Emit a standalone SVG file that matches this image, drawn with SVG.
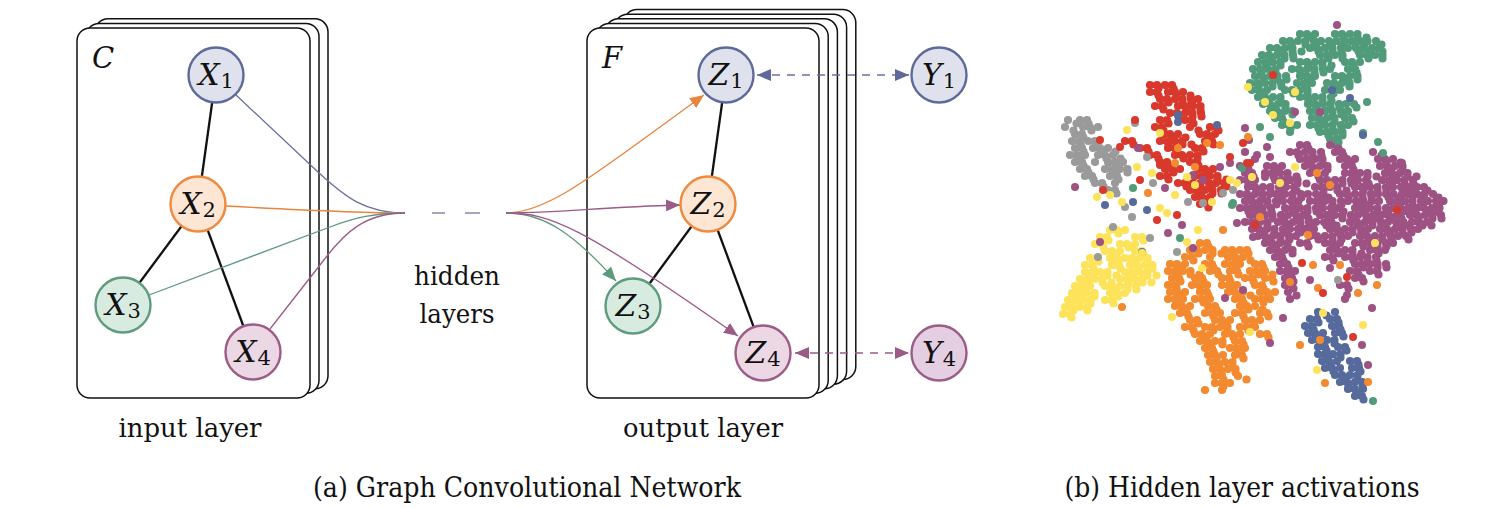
<svg xmlns="http://www.w3.org/2000/svg" width="1510" height="508" viewBox="0 0 1510 508">
<style>
.card{fill:#fff;stroke:#111;stroke-width:1.5}
.edge{stroke:#111;stroke-width:2.3;fill:none}
.n1{fill:#dfe2ec;stroke:#5f6a9a;stroke-width:2.4}
.n2{fill:#fde6d4;stroke:#ef8a3e;stroke-width:2.4}
.n3{fill:#d8ebe1;stroke:#5f9c7e;stroke-width:2.4}
.n4{fill:#ecd7e5;stroke:#9c5c87;stroke-width:2.4}
.n4y{fill:#e4cfe2;stroke:#9c5c87;stroke-width:2.4}
.t{fill:#111;font-family:"DejaVu Serif",serif}
.lbl{font-family:"DejaVu Serif",serif;font-size:30px;text-anchor:middle;fill:#111}
.it{font-style:italic}
.sub{font-size:21px;font-style:normal}
.cb{stroke:#6a6f9e;stroke-width:1.3;fill:none}
.co{stroke:#e8843d;stroke-width:1.3;fill:none}
.cg{stroke:#5d9a7b;stroke-width:1.3;fill:none}
.cp{stroke:#9c5a86;stroke-width:1.3;fill:none}
.dash{stroke-dasharray:8 7;stroke-width:1.5}
.g{fill:#519b7b}.r{fill:#d9392c}.k{fill:#9a9a9a}.y{fill:#fde35a}.o{fill:#f38a30}.p{fill:#9d5283}.b{fill:#566a9c}
.L1{fill:none;stroke-width:8.2;stroke-linecap:round;stroke-dasharray:0 7 0 8 0 7.5 0 8.5}
.L2{fill:none;stroke-width:8.2;stroke-linecap:round;stroke-dasharray:0 10 0 14 0 9 0 17;stroke-dashoffset:4}
</style>
<defs>
<marker id="ao" markerUnits="userSpaceOnUse" markerWidth="14" markerHeight="12" refX="14" refY="6" orient="auto"><path d="M0,0L14,6L0,12z" fill="#e8843d"/></marker>
<marker id="ap" markerUnits="userSpaceOnUse" markerWidth="14" markerHeight="12" refX="14" refY="6" orient="auto-start-reverse"><path d="M0,0L14,6L0,12z" fill="#9c5a86"/></marker>
<marker id="ag" markerUnits="userSpaceOnUse" markerWidth="14" markerHeight="12" refX="14" refY="6" orient="auto"><path d="M0,0L14,6L0,12z" fill="#5d9a7b"/></marker>
<marker id="ab" markerUnits="userSpaceOnUse" markerWidth="14" markerHeight="12" refX="14" refY="6" orient="auto-start-reverse"><path d="M0,0L14,6L0,12z" fill="#5f6a9a"/></marker>
</defs>

<g id="input-stack">
<rect class="card" x="95" y="18.8" width="233" height="370" rx="13"/>
<rect class="card" x="86" y="23.4" width="233" height="370" rx="13"/>
<rect class="card" x="77" y="28" width="233" height="370" rx="13"/>
<text class="t it" x="92" y="68" font-size="29">C</text>
</g>
<g id="output-stack">
<rect class="card" x="623.8" y="9.6" width="232" height="370" rx="13"/>
<rect class="card" x="614.6" y="14.2" width="232" height="370" rx="13"/>
<rect class="card" x="605.4" y="18.8" width="232" height="370" rx="13"/>
<rect class="card" x="596.2" y="23.4" width="232" height="370" rx="13"/>
<rect class="card" x="587" y="28" width="232" height="370" rx="13"/>
<text class="t it" x="602" y="68" font-size="29">F</text>
</g>

<g id="connectors">
<line class="edge" x1="216" y1="75" x2="198" y2="204"/>
<line class="edge" x1="198" y1="204" x2="123" y2="305"/>
<line class="edge" x1="198" y1="204" x2="253" y2="352"/>
<line class="edge" x1="726" y1="75" x2="708" y2="204"/>
<line class="edge" x1="708" y1="204" x2="633" y2="306"/>
<line class="edge" x1="708" y1="204" x2="763" y2="352"/>
<path class="cb" d="M236,95 L318,172 C345,197 365,213 405,213"/>
<path class="co" d="M226,206 C300,210 360,213 405,213"/>
<path class="cg" d="M149,295 L330,227 C355,217.6 375,213 405,213"/>
<path class="cp" d="M270,329 L327,256 C345,233 365,213 405,213"/>
<line x1="432" y1="213" x2="445" y2="213" stroke="#7f7ea0" stroke-width="1.4"/>
<line x1="465" y1="213" x2="480" y2="213" stroke="#7f7ea0" stroke-width="1.4"/>
<path class="co" d="M506,213 C550,213 600,170 704,95" marker-end="url(#ao)"/>
<path class="cp" d="M506,213 C560,213 600,207 680,205" marker-end="url(#ap)"/>
<path class="cg" d="M506,213 C545,213 575,235 616,281" marker-end="url(#ag)"/>
<path class="cp" d="M506,213 C550,213 580,225 738,336" marker-end="url(#ap)"/>
<line class="cb dash" x1="757" y1="75" x2="909" y2="75" marker-start="url(#ab)" marker-end="url(#ab)"/>
<line class="cp dash" x1="795" y1="353" x2="909" y2="353" marker-start="url(#ap)" marker-end="url(#ap)"/>
</g>

<g id="X1"><circle class="n1" cx="216" cy="75" r="27.5"/><text class="lbl" x="216" y="85"><tspan class="it">X</tspan><tspan class="sub" dy="3" dx="1">1</tspan></text></g>
<g id="X2"><circle class="n2" cx="198" cy="204" r="27.5"/><text class="lbl" x="198" y="214"><tspan class="it">X</tspan><tspan class="sub" dy="3" dx="1">2</tspan></text></g>
<g id="X3"><circle class="n3" cx="123" cy="305" r="27.5"/><text class="lbl" x="123" y="315"><tspan class="it">X</tspan><tspan class="sub" dy="3" dx="1">3</tspan></text></g>
<g id="X4"><circle class="n4" cx="253" cy="352" r="27.5"/><text class="lbl" x="253" y="362"><tspan class="it">X</tspan><tspan class="sub" dy="3" dx="1">4</tspan></text></g>
<g id="Z1"><circle class="n1" cx="726" cy="75" r="27.5"/><text class="lbl" x="726" y="85"><tspan class="it">Z</tspan><tspan class="sub" dy="3" dx="1">1</tspan></text></g>
<g id="Z2"><circle class="n2" cx="708" cy="204" r="27.5"/><text class="lbl" x="708" y="214"><tspan class="it">Z</tspan><tspan class="sub" dy="3" dx="1">2</tspan></text></g>
<g id="Z3"><circle class="n3" cx="633" cy="306" r="27.5"/><text class="lbl" x="633" y="316"><tspan class="it">Z</tspan><tspan class="sub" dy="3" dx="1">3</tspan></text></g>
<g id="Z4"><circle class="n4" cx="763" cy="353" r="27.5"/><text class="lbl" x="763" y="363"><tspan class="it">Z</tspan><tspan class="sub" dy="3" dx="1">4</tspan></text></g>
<g id="Y1"><circle class="n1" cx="939" cy="75" r="27.5"/><text class="lbl" x="939" y="85"><tspan class="it">Y</tspan><tspan class="sub" dy="3" dx="1">1</tspan></text></g>
<g id="Y4"><circle class="n4y" cx="939" cy="353" r="27.5"/><text class="lbl" x="939" y="363"><tspan class="it">Y</tspan><tspan class="sub" dy="3" dx="1">4</tspan></text></g>

<g id="labels">
<text class="t" x="457" y="285" font-size="26" text-anchor="middle" textLength="86" lengthAdjust="spacingAndGlyphs">hidden</text>
<text class="t" x="457" y="323" font-size="26" text-anchor="middle" textLength="75" lengthAdjust="spacingAndGlyphs">layers</text>
<text class="t" x="190" y="437" font-size="26" text-anchor="middle" textLength="143" lengthAdjust="spacingAndGlyphs">input layer</text>
<text class="t" x="703" y="437" font-size="26" text-anchor="middle" textLength="160" lengthAdjust="spacingAndGlyphs">output layer</text>
<text class="t" x="527" y="497" font-size="28" text-anchor="middle" textLength="428" lengthAdjust="spacingAndGlyphs">(a) Graph Convolutional Network</text>
<text class="t" x="1242" y="497" font-size="28" text-anchor="middle" textLength="355" lengthAdjust="spacingAndGlyphs">(b) Hidden layer activations</text>
</g>

<g id="scatter">
<g class="L1">
<path id="cg" stroke="#519b7b" d="M1303,27h0 M1300,34H1320 M1335,34H1365 M1283,41H1380 M1270,48H1300 M1310,48H1387 M1262,55H1295 M1320,55H1345 M1360,55H1385 M1258,62H1285 M1300,62H1330 M1345,62H1365 M1253,69H1280 M1292,69H1335 M1348,69H1360 M1255,76H1290 M1300,76H1320 M1335,76H1362 M1250,83H1282 M1297,83H1315 M1327,83H1350 M1252,90H1270 M1285,90H1310 M1325,90H1345 M1258,97H1285 M1300,97H1338 M1263,104H1290 M1308,104H1355 M1270,111H1295 M1310,111H1350 M1275,118H1290 M1312,118H1335 M1345,118H1360 M1282,125H1300 M1310,125H1350 M1290,132H1295 M1320,132H1345 M1330,139H1340 M1335,146h0"/>
<path id="ck" stroke="#9a9a9a" d="M1068,120H1075 M1080,120H1095 M1065,127H1072 M1083,127H1100 M1075,134H1090 M1072,141H1080 M1088,141H1100 M1075,148H1085 M1093,148H1115 M1070,155H1078 M1085,155H1090 M1098,155H1120 M1075,162H1085 M1095,162H1100 M1108,162H1125 M1080,169H1095 M1105,169H1130 M1085,176H1100 M1110,176H1125 M1095,183H1105 M1115,183H1120 M1108,190H1118"/>
<path id="cr" stroke="#d9392c" d="M1150,85H1160 M1165,85H1180 M1150,92H1158 M1168,92H1190 M1160,99H1200 M1155,106H1165 M1178,106H1205 M1170,113H1205 M1160,120H1175 M1185,120H1200 M1155,127H1170 M1190,127H1197 M1210,127H1218 M1163,134H1185 M1200,134H1220 M1125,141H1135 M1160,141H1190 M1205,141H1215 M1140,148H1150 M1168,148H1180 M1195,148H1210 M1150,155H1160 M1175,155H1200 M1160,162H1175 M1190,162H1205 M1165,169H1185 M1198,169H1215 M1160,176H1170 M1195,176H1225 M1178,183H1225 M1190,190H1222 M1195,197H1215 M1200,204H1210"/>
<path id="cp" stroke="#9d5283" d="M1300,145H1310 M1330,145H1345 M1245,152H1250 M1290,152H1327 M1335,152H1350 M1373,152H1380 M1255,159H1260 M1300,159H1325 M1340,159H1357 M1378,159H1400 M1240,166H1250 M1267,166H1283 M1305,166H1330 M1345,166H1360 M1380,166H1405 M1245,173H1255 M1265,173H1295 M1310,173H1330 M1345,173H1375 M1385,173H1415 M1240,180H1260 M1275,180H1305 M1320,180H1370 M1382,180H1420 M1248,187H1300 M1315,187H1345 M1355,187H1430 M1240,194H1265 M1270,194H1330 M1340,194H1440 M1245,201H1300 M1310,201H1380 M1390,201H1445 M1240,208H1275 M1285,208H1345 M1355,208H1440 M1250,215H1310 M1320,215H1400 M1410,215H1445 M1245,222H1270 M1278,222H1340 M1350,222H1430 M1252,229H1320 M1330,229H1370 M1380,229H1420 M1258,236H1300 M1310,236H1350 M1360,236H1410 M1265,243H1290 M1300,243H1310 M1325,243H1345 M1355,243H1400 M1270,250H1295 M1330,250H1360 M1370,250H1390 M1275,257H1290 M1325,257H1335 M1345,257H1380 M1280,264H1295 M1355,264H1390 M1280,271H1300 M1350,271H1360 M1370,271H1385 M1285,278H1295 M1355,278H1365 M1285,285H1293 M1340,285H1350 M1288,292H1295 M1290,299H1295 M1345,299H1350"/>
<path id="co" stroke="#f38a30" d="M1200,243H1215 M1190,250H1220 M1225,250H1235 M1240,250H1255 M1185,257H1200 M1210,257H1215 M1228,257H1250 M1170,264H1190 M1205,264H1215 M1225,264H1245 M1255,264H1268 M1168,271H1198 M1210,271H1222 M1230,271H1240 M1250,271H1272 M1172,278H1185 M1195,278H1205 M1222,278H1235 M1245,278H1255 M1265,278H1278 M1168,285H1180 M1192,285H1210 M1222,285H1240 M1255,285H1270 M1170,292H1190 M1200,292H1210 M1228,292H1250 M1260,292H1278 M1168,299H1185 M1195,299H1215 M1235,299H1245 M1255,299H1275 M1175,306H1195 M1208,306H1222 M1240,306H1262 M1180,313H1192 M1205,313H1225 M1235,313H1250 M1260,313H1275 M1190,320H1205 M1215,320H1235 M1245,320H1262 M1185,327H1195 M1205,327H1230 M1240,327H1258 M1195,334H1215 M1225,334H1245 M1260,334H1275 M1200,341H1225 M1235,341H1250 M1205,348H1220 M1230,348H1250 M1208,355H1225 M1235,355H1245 M1210,362H1235 M1213,369H1240 M1215,376H1230 M1238,376H1245 M1215,383H1232 M1205,390H1210 M1222,390H1228 M1203,397h0"/>
<path id="cn" stroke="#566a9c" d="M1318,312H1325 M1335,312H1340 M1310,319H1318 M1330,319H1345 M1305,326H1320 M1332,326H1340 M1308,333H1325 M1335,333H1345 M1312,340H1340 M1318,347H1330 M1338,347H1350 M1318,354H1345 M1322,361H1340 M1350,361H1360 M1325,368H1345 M1352,368H1365 M1335,375H1360 M1340,382H1365 M1348,389H1365 M1355,396H1365"/>
<path id="cy" stroke="#fde35a" d="M1110,230H1130 M1100,237H1112 M1135,237H1145 M1095,244H1105 M1120,244H1140 M1105,251H1125 M1135,251H1150 M1090,258H1100 M1110,258H1118 M1125,258H1150 M1085,265H1100 M1112,265H1120 M1130,265H1158 M1085,272H1115 M1125,272H1155 M1080,279H1110 M1120,279H1150 M1075,286H1095 M1105,286H1140 M1072,293H1100 M1110,293H1130 M1068,300H1095 M1105,300H1118 M1065,307H1090 M1063,314H1075"/>
</g>
<use href="#cg" class="L2" transform="translate(2.5,3.5)"/>
<use href="#ck" class="L2" transform="translate(2.5,3.5)"/>
<use href="#cr" class="L2" transform="translate(2.5,3.5)"/>
<use href="#cp" class="L2" transform="translate(2.5,3.5)"/>
<use href="#co" class="L2" transform="translate(2.5,3.5)"/>
<use href="#cn" class="L2" transform="translate(2.5,3.5)"/>
<use href="#cy" class="L2" transform="translate(2.5,3.5)"/>
<g>
<circle class="p" cx="1075" cy="187" r="4"/><circle class="p" cx="1138" cy="148" r="4"/><circle class="p" cx="1165" cy="188" r="4"/><circle class="p" cx="1193" cy="175" r="4"/><circle class="p" cx="1203" cy="180" r="4"/><circle class="p" cx="1230" cy="163" r="4"/><circle class="p" cx="1220" cy="167" r="4"/><circle class="p" cx="1250" cy="213" r="4"/><circle class="p" cx="1258" cy="207" r="4"/><circle class="p" cx="1337" cy="25" r="4"/><circle class="p" cx="1320" cy="112" r="4"/><circle class="p" cx="1295" cy="112" r="4"/><circle class="p" cx="1267" cy="147" r="4"/><circle class="p" cx="1270" cy="157" r="4"/><circle class="p" cx="1265" cy="177" r="4"/><circle class="p" cx="1402" cy="163" r="4"/><circle class="p" cx="1100" cy="242" r="4"/><circle class="p" cx="1168" cy="233" r="4"/><circle class="p" cx="1182" cy="225" r="4"/><circle class="p" cx="1193" cy="248" r="4"/><circle class="p" cx="1225" cy="298" r="4"/><circle class="p" cx="1243" cy="290" r="4"/><circle class="p" cx="1237" cy="223" r="4"/><circle class="p" cx="1253" cy="237" r="4"/><circle class="p" cx="1372" cy="308" r="4"/><circle class="p" cx="1362" cy="345" r="4"/><circle class="p" cx="1368" cy="365" r="4"/><circle class="p" cx="1347" cy="295" r="4"/><circle class="p" cx="1330" cy="268" r="4"/><circle class="p" cx="1310" cy="280" r="4"/><circle class="p" cx="1270" cy="343" r="4"/><circle class="p" cx="1283" cy="318" r="4"/><circle class="p" cx="1249" cy="140" r="4"/><circle class="p" cx="1245" cy="128" r="4"/><circle class="p" cx="1257" cy="155" r="4"/>
<circle class="o" cx="1178" cy="148" r="4"/><circle class="o" cx="1175" cy="163" r="4"/><circle class="o" cx="1207" cy="143" r="4"/><circle class="o" cx="1220" cy="145" r="4"/><circle class="o" cx="1195" cy="167" r="4"/><circle class="o" cx="1248" cy="137" r="4"/><circle class="o" cx="1148" cy="193" r="4"/><circle class="o" cx="1317" cy="173" r="4"/><circle class="o" cx="1330" cy="185" r="4"/><circle class="o" cx="1260" cy="217" r="4"/><circle class="o" cx="1223" cy="230" r="4"/><circle class="o" cx="1308" cy="235" r="4"/><circle class="o" cx="1340" cy="265" r="4"/><circle class="o" cx="1377" cy="285" r="4"/><circle class="o" cx="1358" cy="293" r="4"/><circle class="o" cx="1318" cy="288" r="4"/><circle class="o" cx="1300" cy="345" r="4"/><circle class="o" cx="1320" cy="340" r="4"/><circle class="o" cx="1368" cy="382" r="4"/><circle class="o" cx="1325" cy="383" r="4"/><circle class="o" cx="1313" cy="265" r="4"/><circle class="o" cx="1290" cy="282" r="4"/><circle class="o" cx="1122" cy="307" r="4"/>
<circle class="g" cx="1133" cy="188" r="4"/><circle class="g" cx="1242" cy="168" r="4"/><circle class="g" cx="1233" cy="203" r="4"/><circle class="g" cx="1367" cy="102" r="4"/><circle class="g" cx="1363" cy="133" r="4"/><circle class="g" cx="1378" cy="142" r="4"/><circle class="g" cx="1383" cy="153" r="4"/><circle class="g" cx="1270" cy="137" r="4"/><circle class="g" cx="1260" cy="127" r="4"/><circle class="g" cx="1180" cy="238" r="4"/><circle class="g" cx="1232" cy="205" r="4"/><circle class="g" cx="1373" cy="401" r="4"/>
<circle class="k" cx="1135" cy="123" r="4"/><circle class="k" cx="1147" cy="157" r="4"/><circle class="k" cx="1153" cy="183" r="4"/><circle class="k" cx="1188" cy="202" r="4"/><circle class="k" cx="1203" cy="203" r="4"/><circle class="k" cx="1223" cy="193" r="4"/><circle class="k" cx="1233" cy="190" r="4"/><circle class="k" cx="1125" cy="207" r="4"/><circle class="k" cx="1113" cy="227" r="4"/><circle class="k" cx="1098" cy="257" r="4"/><circle class="k" cx="1150" cy="238" r="4"/><circle class="k" cx="1177" cy="252" r="4"/><circle class="k" cx="1132" cy="217" r="4"/><circle class="k" cx="1338" cy="280" r="4"/>
<circle class="r" cx="1135" cy="120" r="4"/><circle class="r" cx="1100" cy="140" r="4"/><circle class="r" cx="1120" cy="147" r="4"/><circle class="r" cx="1103" cy="190" r="4"/><circle class="r" cx="1250" cy="163" r="4"/><circle class="r" cx="1230" cy="157" r="4"/><circle class="r" cx="1243" cy="143" r="4"/><circle class="r" cx="1273" cy="75" r="4"/><circle class="r" cx="1247" cy="163" r="4"/><circle class="r" cx="1397" cy="210" r="4"/><circle class="r" cx="1302" cy="263" r="4"/><circle class="r" cx="1347" cy="277" r="4"/><circle class="r" cx="1353" cy="337" r="4"/><circle class="r" cx="1323" cy="293" r="4"/><circle class="r" cx="1255" cy="225" r="4"/><circle class="r" cx="1177" cy="215" r="4"/><circle class="r" cx="1157" cy="220" r="4"/><circle class="r" cx="1140" cy="180" r="4"/><circle class="r" cx="1160" cy="165" r="4"/>
<circle class="b" cx="1178" cy="115" r="4"/><circle class="b" cx="1178" cy="122" r="4"/><circle class="b" cx="1217" cy="125" r="4"/><circle class="b" cx="1133" cy="202" r="4"/><circle class="b" cx="1105" cy="205" r="4"/><circle class="b" cx="1147" cy="210" r="4"/><circle class="b" cx="1332" cy="90" r="4"/><circle class="b" cx="1350" cy="98" r="4"/><circle class="b" cx="1363" cy="135" r="4"/><circle class="b" cx="1142" cy="252" r="4"/>
<circle class="y" cx="1127" cy="130" r="4"/><circle class="y" cx="1160" cy="133" r="4"/><circle class="y" cx="1137" cy="167" r="4"/><circle class="y" cx="1122" cy="202" r="4"/><circle class="y" cx="1167" cy="213" r="4"/><circle class="y" cx="1187" cy="177" r="4"/><circle class="y" cx="1195" cy="185" r="4"/><circle class="y" cx="1175" cy="195" r="4"/><circle class="y" cx="1212" cy="202" r="4"/><circle class="y" cx="1230" cy="180" r="4"/><circle class="y" cx="1237" cy="183" r="4"/><circle class="y" cx="1252" cy="177" r="4"/><circle class="y" cx="1248" cy="87" r="4"/><circle class="y" cx="1152" cy="173" r="4"/><circle class="y" cx="1110" cy="195" r="4"/><circle class="y" cx="1097" cy="197" r="4"/><circle class="y" cx="1160" cy="208" r="4"/><circle class="y" cx="1265" cy="102" r="4"/><circle class="y" cx="1273" cy="115" r="4"/><circle class="y" cx="1290" cy="123" r="4"/><circle class="y" cx="1295" cy="92" r="4"/><circle class="y" cx="1295" cy="167" r="4"/><circle class="y" cx="1280" cy="183" r="4"/><circle class="y" cx="1198" cy="230" r="4"/><circle class="y" cx="1187" cy="242" r="4"/><circle class="y" cx="1202" cy="268" r="4"/><circle class="y" cx="1172" cy="317" r="4"/><circle class="y" cx="1250" cy="332" r="4"/><circle class="y" cx="1115" cy="265" r="4"/><circle class="y" cx="1142" cy="253" r="4"/><circle class="y" cx="1375" cy="243" r="4"/><circle class="y" cx="1323" cy="313" r="4"/><circle class="y" cx="1363" cy="325" r="4"/><circle class="y" cx="1317" cy="370" r="4"/>
</g>
</g>
</svg>
